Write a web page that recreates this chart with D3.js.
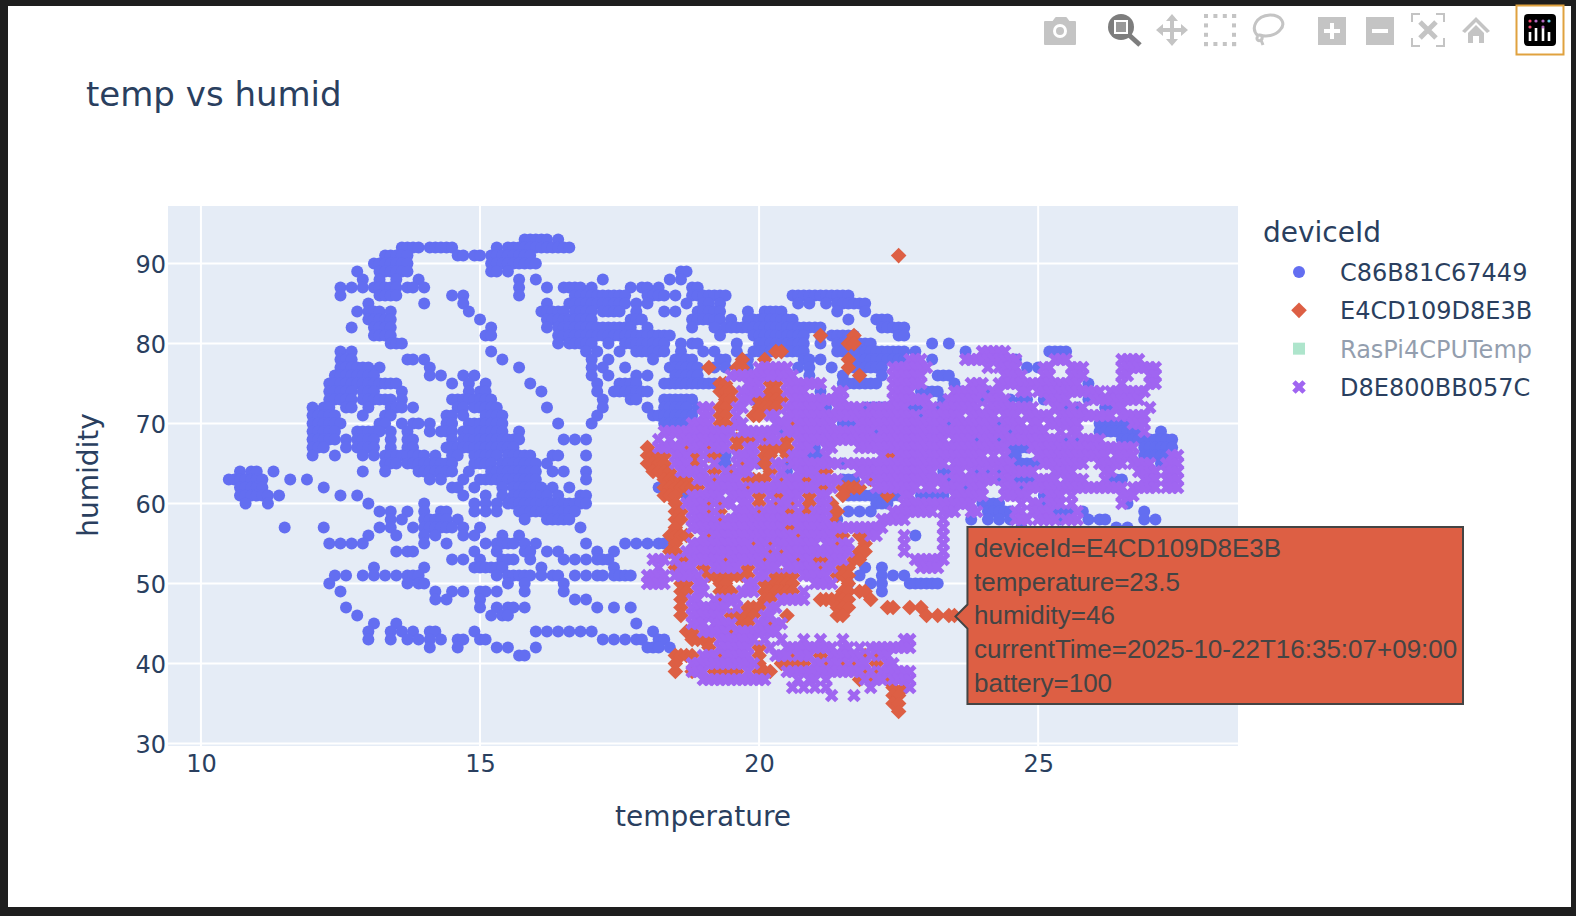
<!DOCTYPE html>
<html>
<head>
<meta charset="utf-8">
<script src="https://cdn.jsdelivr.net/npm/d3@7"></script>
<style>
  html, body { margin: 0; padding: 0; background: #1e1e1e; }
  svg { display: block; }
  text { font-family: "DejaVu Sans", Verdana, sans-serif; fill: #2a3f5f; }
</style>
</head>
<body>
<div id="chart"></div>
<script>
var xTicks = [10, 15, 20, 25];
var yTicks = [30, 40, 50, 60, 70, 80, 90];
var legendNames = ["C86B81C67449", "E4CD109D8E3B", "RasPi4CPUTemp", "D8E800BB057C"];
var tooltipLines = ["deviceId=E4CD109D8E3B", "temperature=23.5", "humidity=46", "currentTime=2025-10-22T16:35:07+09:00", "battery=100"];

// every row is [humidity, temperatures in tenths of a degree]
var blueRows = [
  [93,[158,159,160,161,162,164]],
  [92,[136,137,138,139,141,142,143,144,145,153,155,156,157,158,159,160,161,162,163,164,165,166]],
  [91,[133,134,135,136,137,146,147,149,150,152,153,154,155,156,157,158,159]],
  [90,[131,132,133,134,135,136,137,152,153,154,155,156,157,158,159,160]],
  [89,[128,132,133,134,135,136,137,152,153,155,186,187]],
  [88,[129,132,135,139,157,160,172,184,186]],
  [87,[125,127,129,131,132,133,134,135,137,138,140,157,162,165,166,167,168,170,177,179,180,182,188,189]],
  [86,[125,132,133,134,135,145,147,157,167,168,169,170,171,172,173,174,175,176,180,181,182,183,185,188,189,190,191,192,193,194,206,207,208,209,210,211,212,213,214,215,216]],
  [85,[130,140,147,162,166,167,168,169,170,171,172,173,174,175,176,178,180,187,190,191,193,207,209,212,214,215,216,217,218,219]],
  [84,[128,130,131,132,134,148,161,162,163,164,165,167,168,169,170,172,173,174,175,178,183,185,189,190,191,192,193,198,201,202,203,204,214,219]],
  [83,[130,131,132,133,134,150,162,163,164,165,166,167,168,169,170,177,178,179,188,189,190,191,192,193,195,198,199,200,201,202,203,204,205,206,216,221,222,223]],
  [82,[127,131,132,133,134,152,162,164,165,166,167,168,169,170,171,172,173,174,175,176,177,180,188,192,194,195,196,197,198,199,200,201,202,203,204,205,206,207,208,209,210,211,222,223,224,225,226]],
  [81,[131,132,133,134,151,152,164,165,166,167,168,169,170,171,172,173,174,175,176,177,178,179,180,181,182,183,184,193,199,200,201,202,203,204,205,206,207,208,211,213,214,215,216,217,225,226]],
  [80,[134,135,136,164,166,167,168,169,170,173,176,177,178,179,180,181,182,183,186,188,189,196,200,201,202,203,204,205,206,207,208,211,214,215,216,217,218,219,220,231,234]],
  [79,[125,127,152,169,171,175,178,179,180,181,182,183,186,190,192,196,199,200,201,202,203,204,205,206,207,208,214,215,216,217,218,219,220,221,222,223,224,225,226,228,237,252,253,254,255]],
  [78,[125,126,127,137,138,140,154,170,173,181,185,186,187,188,193,194,197,198,208,209,211,218,219,220,221,222,223,224,225,226,228,231,246]],
  [77,[125,126,127,128,129,130,132,141,157,170,172,176,184,185,186,187,188,189,192,194,198,207,209,213,217,218,219,220,221,222,248,250]],
  [76,[124,125,126,127,128,129,130,131,141,143,147,149,170,173,178,180,185,186,187,188,189,209,215,218,222,232,233,234]],
  [75,[123,124,125,126,127,128,129,130,131,132,133,134,135,145,148,151,159,171,175,176,177,178,183,184,185,186,187,188,189,190,191,192,215,216,217,218,219,220,221,235,259]],
  [74,[123,124,125,126,127,129,130,131,136,148,150,151,161,171,174,175,176,177,178,179,180,211,229,230,231,232,236,241]],
  [73,[123,124,125,126,127,129,130,131,132,133,134,136,145,146,147,148,149,150,151,152,172,177,178,183,184,185,186,187,188,199,201,233,240,245,247,248,251,259]],
  [72,[120,122,123,126,127,130,134,135,136,138,146,147,149,150,151,152,153,162,172,180,183,184,185,186,187,189,194,212,219,220,221,222,223,227,228,229,232,255,257,262,263]],
  [71,[120,121,122,123,124,129,133,134,144,145,147,151,152,153,154,171,181,182,183,184,185,186,187,188,229]],
  [70,[120,121,122,123,124,125,132,133,136,138,139,141,144,145,148,149,150,151,152,153,154,164,170,183,184,185,186,187,215,216,217,234,243,261,262,263,264,265,266]],
  [69,[120,121,122,123,124,128,129,130,131,132,134,137,141,143,144,145,147,148,149,150,151,152,153,154,157,204,221,245,261,262,263,264,265,266,267,268,272]],
  [68,[120,121,122,123,124,126,128,129,130,131,134,137,138,145,147,148,149,150,151,152,153,154,155,156,157,165,167,169,239,243,255,257,265,266,267,268,269,270,271,272,273,274]],
  [67,[120,121,122,126,128,129,130,131,134,137,138,144,145,146,147,148,149,150,151,152,153,154,155,156,210,245,246,247,248,269,270,271,272,273,274]],
  [66,[120,124,129,131,133,134,135,136,137,138,139,140,142,145,146,149,150,151,152,153,155,156,157,158,159,163,164,169,192,193,194,206,209,210,211,245,246,269,270,271,272,273,274]],
  [65,[133,134,135,137,138,139,140,141,142,143,144,145,149,150,151,152,154,155,156,157,158,159,160,162,193,194,200,205,215,246,247,248,249,250,272,273]],
  [64,[107,109,110,113,129,133,139,140,141,142,143,144,145,148,152,153,154,155,156,157,158,159,160,163,165,169,205,233,234,239,241,243]],
  [63,[105,106,107,108,109,110,111,116,119,141,143,147,150,151,152,153,154,155,156,157,158,159,160,169,215,216,217,234,243,246,247,248,249,263,264,265]],
  [62,[107,108,109,110,111,122,145,146,149,154,156,157,158,159,160,161,163,166,182,237,247]],
  [61,[107,108,109,110,111,112,114,125,128,147,151,154,156,157,158,159,160,161,162,164,168,169,187,216,217,218,219,220,221,222,223,224,225,229,230,231,232,233,251]],
  [60,[108,112,130,140,149,151,153,155,156,157,158,159,160,161,162,163,164,165,166,167,168,169,209,221,222,223,240,241,242,243,251,266]],
  [59,[132,134,137,140,143,144,149,151,153,157,158,159,160,161,162,163,164,165,166,167,216,218,220,241,242,243,244,245,253,254,255,256,258,269]],
  [58,[134,136,140,141,142,143,144,146,158,162,163,164,165,166,214,238,241,243,245,254,259,261,262,269,271]],
  [57,[115,122,132,134,138,140,141,142,143,144,145,147,150,168,247,264,266]],
  [56,[130,135,140,142,147,149,154,157,228]],
  [55,[123,125,127,129,140,144,151,153,154,155,156,158,160,169,176,178,180,182,183]],
  [54,[135,137,138,149,153,158,159,162,164,171,174]],
  [53,[145,147,150,154,155,156,159,165,167,169,171,172,173,190]],
  [52,[131,140,149,150,151,152,153,154,161,174,219,222]],
  [51,[124,126,129,131,133,135,137,138,139,153,155,156,157,158,159,161,163,164,167,169,171,172,174,175,176,177,218,222,224,226]],
  [50,[123,137,139,140,155,158,165,216,220,222,227,228,229,230,231,232]],
  [49,[125,142,145,147,150,151,153,158,165,222]],
  [48,[142,144,150,167,169]],
  [47,[126,150,153,155,156,158,171,174,177]],
  [46,[128,152,154,155]],
  [45,[131,135,178]],
  [44,[130,134,136,138,141,142,149,160,162,164,166,168,170,181]],
  [43,[130,134,137,139,141,143,146,147,150,151,172,174,176,178,179,182,183]],
  [42,[141,146,153,155,160,180,181,182,184]],
  [41,[157,158]]
];

var orangeRows = [
  [91,[225]],
  [81,[211,217]],
  [80,[216,217]],
  [79,[203,204]],
  [78,[197,201,216]],
  [77,[191,196,197,216]],
  [76,[218]],
  [75,[193,194,202,203]],
  [74,[193,194,195,202,203]],
  [73,[194,195,200,201,202,203,204]],
  [72,[193,194,200,201,202,203]],
  [71,[193,194,199,200]],
  [70,[193,194,196,206]],
  [68,[196,197,198,199,201,205]],
  [67,[180,187,191,196,201,202,203,204,205]],
  [66,[180,181,182,183,188,189,191,192,201,202,205,223,224]],
  [65,[180,181,182,183,188,189,197,201]],
  [64,[181,182,183,184,192,195,202,211,212]],
  [63,[183,184,185,186,187,192,198,199,200,201,204,208,209,220]],
  [62,[183,184,185,186,187,188,189,198,211,212,215,216,217,218]],
  [61,[183,184,185,200,203,204,209,215,223]],
  [60,[185,191,193,200,203,206,209,213]],
  [59,[185,186,191,193,200,205,206,208,209,213,214]],
  [58,[185,186,193,213]],
  [57,[185,205,206]],
  [56,[184,185,186,187,191,207,214,215,218,219]],
  [55,[185,199,202,214,219]],
  [54,[184,185,202,204,218,219]],
  [53,[186,187,194,201,207,210,211,212,217,218]],
  [52,[185,190,198,211,215,216]],
  [51,[191,192,193,194,195,196,197,198,203,204,205,206,214,215,216]],
  [50,[186,187,193,194,201,202,203,204,205,206,216]],
  [49,[186,187,193,194,195,201,202,203,204,205,206,215,216,218,219]],
  [48,[186,193,201,202,211,212,213,214,215,216,220]],
  [47,[186,198,199,200,214,215,216,223,224,227,229]],
  [46,[186,195,196,197,198,199,205,214,215,230,232,234,235]],
  [45,[197,198,202]],
  [44,[187,188,195]],
  [43,[188,189,190,191]],
  [42,[191,200]],
  [41,[185,186,187,188,193,200,206,211,219,221]],
  [40,[185,200,204,205,206,207,208,212,215,217,221]],
  [39,[185,188,192,193,194,195,196,200,201,202,219,221]],
  [38,[218,220,223]],
  [37,[224,226]],
  [36,[224,225]],
  [35,[224,225]],
  [34,[225]]
];

var purpleRows = [
  [79,[240,241,242,243,244]],
  [78,[227,228,229,237,238,239,240,241,242,243,244,245,246,253,254,255,265,266,267,268]],
  [77,[200,201,202,203,204,205,224,225,226,227,228,229,230,241,243,244,245,246,251,252,256,257,258,265,266,267,268,269,270,271]],
  [76,[195,196,197,198,199,200,201,202,203,204,205,206,224,225,226,227,228,229,244,245,246,247,251,252,256,257,258,265,266,270,271]],
  [75,[198,199,200,205,206,207,208,209,210,211,224,225,226,227,228,229,238,239,240,243,244,245,246,247,248,249,250,251,252,253,254,255,256,257,265,270,271]],
  [74,[197,198,199,200,205,206,207,208,214,215,224,225,226,227,235,236,237,238,239,240,242,243,247,248,250,251,252,253,254,255,256,257,258,259,260,261,263,264,265,266,267,268,269]],
  [73,[197,198,206,207,208,209,210,211,212,213,214,215,224,225,226,227,228,229,230,234,235,236,237,238,239,241,242,243,244,252,253,254,255,260,261,262,263,264,265,266,267,268]],
  [72,[190,191,196,197,205,206,207,208,209,210,211,214,215,216,217,218,220,221,222,223,224,225,226,230,231,233,234,235,236,237,238,239,241,242,243,244,245,246,247,248,249,253,254,256,258,264,265,270]],
  [71,[190,191,196,202,203,205,206,207,208,209,210,211,212,213,214,215,216,217,218,219,220,221,222,223,224,225,226,227,228,230,231,232,233,234,235,236,238,239,240,241,242,244,245,246,248,249,250,251,252,254,255,256,257,258,259,260,261,262,263,265,266,267,268,269]],
  [70,[188,189,190,191,196,197,203,204,205,207,208,209,210,211,212,213,218,219,220,221,222,223,224,225,226,227,228,229,230,231,232,233,235,236,237,238,239,240,241,242,244,245,246,247,249,250,252,253,254,255,256,257,267,268,269]],
  [69,[183,184,185,186,187,188,189,190,191,192,193,194,195,197,198,199,200,201,202,203,205,206,207,208,209,210,211,212,213,214,215,216,217,218,219,220,222,223,224,225,226,227,228,229,230,231,232,233,234,235,236,237,238,239,240,241,242,243,244,246,247,248,249,250,251,254,256,257,269]],
  [68,[182,184,186,187,188,189,190,191,192,193,194,200,202,203,207,208,209,210,211,212,213,214,215,216,217,218,219,220,221,222,223,224,225,226,227,228,229,230,231,232,233,235,236,237,238,240,241,242,244,245,246,247,248,249,250,251,252,253,254,256,258,259,260,261]],
  [67,[182,183,184,185,186,188,189,190,192,193,194,198,199,207,208,209,212,213,218,219,220,221,222,223,224,225,226,227,228,229,230,231,232,233,234,235,236,237,238,239,240,241,242,243,244,249,250,251,252,253,254,255,256,257,258,259,260,261,262,263,264,265,266,267]],
  [66,[185,186,187,190,196,197,198,199,206,207,208,212,222,225,226,227,228,229,230,231,232,233,234,235,236,237,238,239,240,242,244,250,251,252,253,254,255,256,257,258,259,260,261,262,264,265,266,267,274,275]],
  [65,[185,186,187,190,192,196,198,199,203,204,206,207,208,209,210,211,212,213,214,216,217,218,219,220,221,222,223,224,225,226,227,228,229,230,231,232,233,235,236,237,238,239,240,241,242,243,244,245,251,252,253,254,255,256,257,258,261,262,263,264,265,267,268,269,270,273,274,275]],
  [64,[186,187,188,189,190,194,196,197,198,204,207,208,209,210,218,219,220,221,222,223,224,225,226,227,228,229,230,231,235,236,238,240,242,244,245,246,247,248,249,253,254,255,256,262,263,268,269,270,271,273,274,275]],
  [63,[189,190,191,193,194,195,196,203,205,206,207,210,211,212,213,214,219,221,222,223,224,225,226,227,228,229,230,231,232,233,235,236,237,238,239,240,241,242,244,245,250,251,252,253,255,256,257,258,262,269,270,271,273,274,275]],
  [62,[191,192,193,194,195,196,197,199,200,201,202,203,204,205,206,207,208,209,210,213,221,222,223,224,225,226,227,228,230,231,233,234,235,236,238,239,240,244,245,246,248,249,250,251,252,253,254,255,256,257,258,259,260,261,262,263,264,265,267,268,269,270,271,273,274,275]],
  [61,[188,189,190,191,192,193,195,196,197,198,202,205,206,207,211,212,226,227,235,236,237,238,239,240,244,245,246,247,248,252,253,254,256,265,266,267]],
  [60,[187,188,189,190,192,194,195,197,198,202,204,205,207,211,212,226,227,228,229,230,231,232,233,234,235,236,237,238,247,249,250,252,253,254,256,265]],
  [59,[188,189,190,192,196,197,198,199,201,202,203,204,207,210,211,212,224,225,226,227,228,229,230,231,233,234,235,238,239,246,247,249,250,251,252,257]],
  [58,[188,189,190,191,192,194,195,196,197,198,199,200,201,202,203,204,205,206,207,208,209,210,211,212,222,223,224,225,226,233,246,247,248,250,251,252,253,255,256,257]],
  [57,[188,189,190,191,192,193,194,195,196,197,198,199,200,201,202,203,204,207,208,209,210,211,212,213,214,215,216,217,218,219,220,221,222,233]],
  [56,[190,192,193,194,195,196,197,198,199,200,201,202,203,204,205,206,208,209,210,211,212,213,220,221,226,233]],
  [55,[188,189,190,191,192,193,194,195,196,197,198,200,201,203,204,205,206,207,208,209,210,212,213,215,216,226,233]],
  [54,[187,188,189,190,191,192,193,194,195,196,197,198,199,200,201,203,205,206,207,208,209,210,211,212,213,214,215,216,226,233]],
  [53,[181,182,183,185,188,189,190,191,192,193,195,196,197,198,199,200,202,203,204,205,206,208,209,213,214,215,228,229,230,231,232,233]],
  [52,[182,186,187,188,192,193,194,195,196,200,201,202,203,205,206,207,208,209,210,212,213,229,230,231,232]],
  [51,[180,181,182,183,185,186,187,188,189,200,201,208,209,210,211,212]],
  [50,[180,181,182,183,189,190,198,199,210,211,212,213]],
  [49,[189,190,197,198,199,208]],
  [48,[188,189,192,194,195,196,204,205,206,207,208]],
  [47,[188,189,190,191,192,193,194,196,202,203]],
  [46,[188,189,190,191,192,193,201,202]],
  [45,[188,189,190,192,193,194,195,200,201,203,204]],
  [44,[190,191,192,193,194,196,197,198,199,200,201,202,203]],
  [43,[193,194,195,196,197,198,199,201,204,208,211,215,226,227]],
  [42,[193,194,195,196,197,198,202,205,206,207,208,209,210,211,212,213,215,216,218,220,221,222,223,224,225,226,227]],
  [41,[190,191,192,194,195,196,197,198,203,204,205,207,208,209,213,214,215,216,217,218,220,222,223]],
  [40,[188,189,190,191,192,193,194,195,196,197,198,199,210,211,213,214,216,218,219,223,224]],
  [39,[188,189,190,198,205,206,207,208,209,210,211,212,213,214,215,216,217,218,220,222,223,224,225,226,227]],
  [38,[190,191,192,193,194,195,196,197,198,199,200,201,207,209,210,212,219,221,222,224,225,226,227]],
  [37,[206,208,210,212,220,227]],
  [36,[213,217]]
];

var svgWidth = 1576;
var svgHeight = 916;

var colors = { blue: "#636ef1", orange: "#dd5f44", mint: "#aee5cc", purple: "#a065f1" };

var x = d3.scaleLinear().domain([9.41, 28.58]).range([168, 1238]);
var y = d3.scaleLinear().domain([29.69, 97.2]).range([746, 206]);

var svg = d3.select("#chart").append("svg")
  .attr("width", svgWidth)
  .attr("height", svgHeight);

svg.append("rect").attr("x", 8).attr("y", 6).attr("width", 1563).attr("height", 901).attr("fill", "#fff");

svg.append("rect")
  .attr("x", 168).attr("y", 206).attr("width", 1070).attr("height", 540)
  .attr("fill", "#e5ecf6");

// gridlines
svg.append("g").selectAll("line").data(xTicks).enter().append("line")
  .attr("x1", d => x(d)).attr("x2", d => x(d)).attr("y1", 206).attr("y2", 746)
  .attr("stroke", "#fff").attr("stroke-width", 2);
svg.append("g").selectAll("line").data(yTicks).enter().append("line")
  .attr("x1", 168).attr("x2", 1238).attr("y1", d => y(d)).attr("y2", d => y(d))
  .attr("stroke", "#fff").attr("stroke-width", 2);

// axes
var xAxis = svg.append("g").attr("transform", "translate(0,746)")
  .call(d3.axisBottom(x).tickValues(xTicks).tickSize(0).tickPadding(9));
var yAxis = svg.append("g").attr("transform", "translate(168,1)")
  .call(d3.axisLeft(y).tickValues(yTicks).tickSize(0).tickPadding(2));
[xAxis, yAxis].forEach(function(a) {
  a.select(".domain").remove();
  a.selectAll("text").style("font-family", "'DejaVu Sans'").style("font-size", "24px").style("fill", "#2a3f5f");
});

svg.append("text").attr("x", 703).attr("y", 826).attr("text-anchor", "middle")
  .attr("font-size", 28).text("temperature");
svg.append("text").attr("transform", "translate(98,475) rotate(-90)").attr("text-anchor", "middle")
  .attr("font-size", 28).text("humidity");
svg.append("text").attr("x", 86).attr("y", 106).attr("font-size", 34).text("temp vs humid");

// marker shapes, same outline as the plotly ones at size 12
var xr = 3.39;
var crossPath = "M0," + xr + "L" + xr + "," + (2 * xr) + "L" + (2 * xr) + "," + xr + "L" + xr + ",0L" + (2 * xr) + "," + (-xr) +
  "L" + xr + "," + (-2 * xr) + "L0," + (-xr) + "L" + (-xr) + "," + (-2 * xr) + "L" + (-2 * xr) + "," + (-xr) + "L" + (-xr) + ",0L" +
  (-2 * xr) + "," + xr + "L" + (-xr) + "," + (2 * xr) + "Z";
var shapes = {
  circle: "M6,0A6,6 0 1,1 0,-6A6,6 0 0,1 6,0Z",
  diamond: "M7.8,0L0,7.8L-7.8,0L0,-7.8Z",
  square: "M6,6H-6V-6H6Z",
  cross: crossPath
};

function flatten(rows) {
  var pts = [];
  rows.forEach(function(r) {
    r[1].forEach(function(t) { pts.push({ temp: t / 10, humid: r[0] }); });
  });
  return pts;
}

function drawSeries(rows, shape, color) {
  svg.append("g").selectAll("path").data(flatten(rows)).enter().append("path")
    .attr("d", shapes[shape])
    .attr("fill", color)
    .attr("transform", d => `translate(${x(d.temp)},${y(d.humid)})`);
}

drawSeries(blueRows, "circle", colors.blue);
drawSeries(orangeRows, "diamond", colors.orange);
drawSeries(purpleRows, "cross", colors.purple);

// legend
svg.append("text").attr("x", 1263).attr("y", 242).attr("font-size", 28).text("deviceId");
var legendShapes = ["circle", "diamond", "square", "cross"];
var legendColors = [colors.blue, colors.orange, colors.mint, colors.purple];
var legendRow = d3.scaleLinear().domain([0, 3]).range([272, 387]);
legendNames.forEach(function(name, i) {
  svg.append("path").attr("d", shapes[legendShapes[i]]).attr("fill", legendColors[i])
    .attr("transform", `translate(1299,${legendRow(i)})`);
  svg.append("text").attr("x", 1340).attr("y", legendRow(i) + 9).attr("font-size", 24)
    .attr("opacity", i == 2 ? 0.5 : 1).text(name);
});

// hover label
var tipX = x(23.5) + 1, tipY = y(46) + 1;
var hover = svg.append("g");
hover.append("path")
  .attr("d", `M${tipX},${tipY}l12,-12V527H1463V704H${tipX + 12}V${tipY + 12}Z`)
  .attr("fill", colors.orange).attr("stroke", "#444").attr("stroke-width", 2);
tooltipLines.forEach(function(line, i) {
  hover.append("text").attr("x", 974).attr("y", 556.7 + i * 33.8)
    .style("font-family", "'Liberation Sans'").style("font-size", "26px").style("fill", "#444").text(line);
});

// modebar
var bar = svg.append("g").attr("fill", "#c4c4c4");
function icon(cx, cy) { return bar.append("g").attr("transform", `translate(${cx},${cy})`); }
var cam = icon(1060, 31);
cam.append("path").attr("d", "M-15,-9H-7L-4,-13H6L9,-9H15V13H-15Z").attr("stroke", "#c4c4c4").attr("stroke-linejoin", "round").attr("stroke-width", 2);
cam.append("circle").attr("r", 7).attr("fill", "#fff");
cam.append("circle").attr("r", 4).attr("fill", "#c4c4c4");
var zoomIcon = icon(1124, 30);
zoomIcon.append("line").attr("x1", 5).attr("y1", 5).attr("x2", 16).attr("y2", 15).attr("stroke", "#7d7d7d").attr("stroke-width", 5);
zoomIcon.append("circle").attr("cx", -3).attr("cy", -3).attr("r", 13).attr("fill", "#7d7d7d");
zoomIcon.append("rect").attr("x", -9).attr("y", -9).attr("width", 12).attr("height", 12).attr("fill", "#999").attr("stroke", "#fff").attr("stroke-width", 2);
var pan = icon(1172, 30);
pan.append("path").attr("d", "M0,-16L6,-9H2V-2H9V-6L16,0L9,6V2H2V9H6L0,16L-6,9H-2V2H-9V6L-16,0L-9,-6V-2H-2V-9H-6Z");
var boxIcon = icon(1220, 30);
d3.range(4).forEach(function(i) {
  [-16, 12].forEach(function(p) {
    boxIcon.append("rect").attr("x", -16 + i * 9.4).attr("y", p).attr("width", 4).attr("height", 4);
    boxIcon.append("rect").attr("x", p).attr("y", -16 + i * 9.4).attr("width", 4).attr("height", 4);
  });
});
var lasso = icon(1268, 30);
lasso.append("path").attr("d", "M-10,6C-18,-2 -12,-14 2,-15C14,-15 18,-6 12,0C7,6 -2,7 -8,5M-10,6C-13,9 -9,13 -6,9C-5,5 -9,4 -10,6M-7,10L-5,15")
  .attr("fill", "none").attr("stroke", "#c4c4c4").attr("stroke-width", 3);
var plus = icon(1332, 31);
plus.append("rect").attr("x", -14).attr("y", -14).attr("width", 28).attr("height", 28);
plus.append("path").attr("d", "M-2,-8H2V-2H8V2H2V8H-2V2H-8V-2H-2Z").attr("fill", "#fff");
var minus = icon(1380, 31);
minus.append("rect").attr("x", -14).attr("y", -14).attr("width", 28).attr("height", 28);
minus.append("rect").attr("x", -8).attr("y", -2).attr("width", 16).attr("height", 4).attr("fill", "#fff");
var auto = icon(1428, 30);
auto.append("path").attr("d", "M-16,-8V-16H-8M8,-16H16V-8M16,8V16H8M-8,16H-16V8").attr("fill", "none").attr("stroke", "#c4c4c4").attr("stroke-width", 2);
auto.append("path").attr("d", "M-8,-8L8,8M8,-8L-8,8").attr("stroke", "#c4c4c4").attr("stroke-width", 5);
var home = icon(1476, 30);
home.append("path").attr("d", "M0,-13L14,1L11,3L0,-8L-11,3L-14,1Z");
home.append("path").attr("d", "M-8,3L0,-5L8,3V13H3V6H-3V13H-8Z");

svg.append("rect").attr("x", 1516.5).attr("y", 5.5).attr("width", 47).attr("height", 49)
  .attr("fill", "#fff").attr("stroke", "#e0a23f").attr("stroke-width", 2);
svg.append("rect").attr("x", 1524).attr("y", 14).attr("width", 32).attr("height", 32).attr("rx", 4).attr("fill", "#000");
var logoX = [1530, 1536, 1543, 1549];
var dotColors = ["#ef476f", "#b56cc4", "#b56cc4", "#6fd0e8"];
logoX.forEach(function(px, i) {
  svg.append("circle").attr("cx", px).attr("cy", 21).attr("r", 1.6).attr("fill", dotColors[i]);
  svg.append("rect").attr("x", px - 1.3).attr("y", i % 3 == 0 ? 32 : 28).attr("width", 2.6).attr("height", i % 3 == 0 ? 9 : 13).attr("fill", "#fff");
});
svg.append("circle").attr("cx", 1530).attr("cy", 27).attr("r", 1.6).attr("fill", "#ef476f");
svg.append("circle").attr("cx", 1543).attr("cy", 27).attr("r", 1.6).attr("fill", "#b56cc4");
</script>
</body>
</html>
